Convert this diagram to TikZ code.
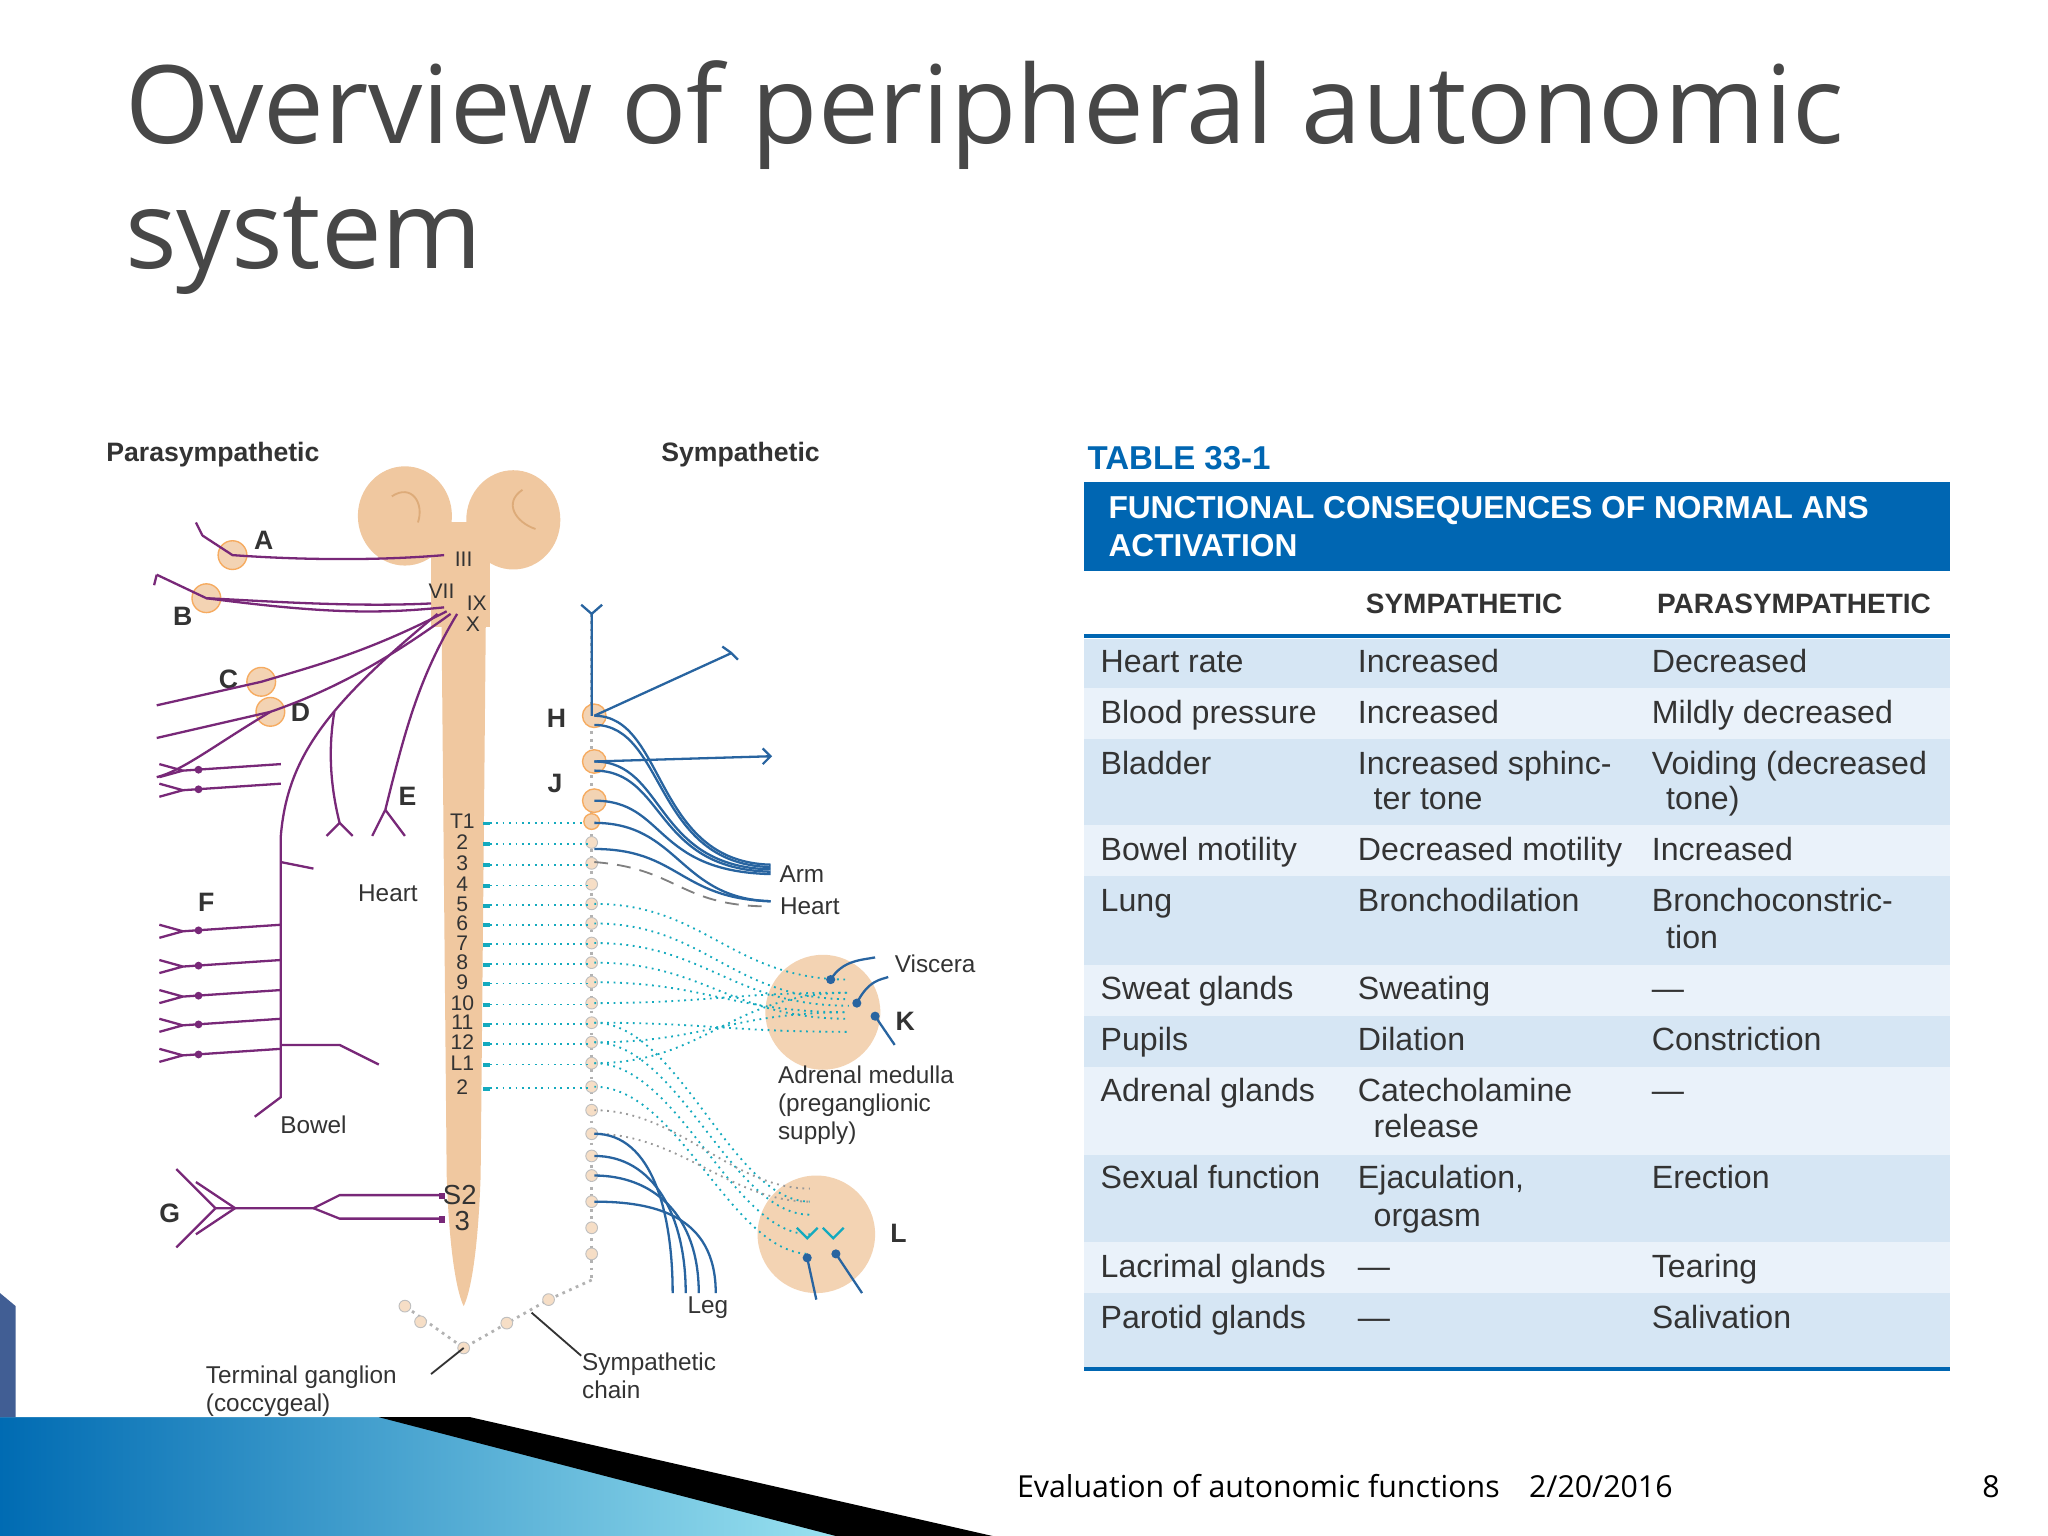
\documentclass[tikz,border=0pt]{standalone}
\usepackage{fontspec}
\setmainfont{Liberation Sans}
\newfontfamily\titlefont{Open Sans}
\usetikzlibrary{arrows.meta}
\definecolor{tblue}{RGB}{0,102,178}
\definecolor{rowA}{RGB}{214,230,244}
\definecolor{rowB}{RGB}{234,242,250}
\definecolor{tan}{RGB}{240,200,160}
\definecolor{purp}{RGB}{120,40,120}
\definecolor{nblue}{RGB}{40,100,160}
\definecolor{teal}{RGB}{20,170,190}
\tikzset{
 cell/.style={anchor=base west,font=\fontsize{7}{8}\selectfont,text=black!80,inner sep=0pt},
 lab/.style={font=\fontsize{5.3}{6.2}\selectfont,inner sep=0pt,text=black!80,align=left},
 blab/.style={font=\bfseries\fontsize{5.8}{7}\selectfont,inner sep=0pt,text=black!80},
 seg/.style={font=\fontsize{4.6}{5}\selectfont,inner sep=0pt,text=black!80},
 pn/.style={purp,line width=0.5pt},
 sn/.style={nblue,line width=0.5pt},
 gang/.style={fill=tan!80,draw=tan!60!orange,line width=0.3pt},
 foot/.style={anchor=west,inner sep=0pt,font=\titlefont\fontsize{6.6}{8}\selectfont},
 ttl/.style={anchor=west,inner sep=0pt,font=\titlefont\fontsize{23.6}{26}\selectfont,text=black!72},
}
\begin{document}
\begin{tikzpicture}[x=0.1mm,y=-0.1mm]
\useasboundingbox (0,0) rectangle (1568,1176);
\fill[white] (0,0) rectangle (1568,1176);
% title
\node[ttl] (t1) at (95,88) {Overview of peripheral autonomic};
\node[ttl] (t2) at (95,188) {system};
% bottom band
\shade[left color=cyan!60!blue!70!black,right color=cyan!25!white] (0,1085) rectangle (800,1176);
\fill[white] (0,1080) -- (800,1080) -- (800,1176) -- (700,1176) -- (300,1085) -- (0,1085) -- cycle;
\fill[black] (290,1085) -- (360,1085) -- (760,1176) -- (640,1176) -- cycle;
\fill[cyan!40!blue!70!black] (0,990) -- (12,1000) -- (12,1085) -- (0,1085) -- cycle;
\node[foot] (f1) at (778,1138) {Evaluation of autonomic functions};
\node[foot] (f2) at (1170,1138) {2/20/2016};
\node[foot] (f3) at (1517,1138) {8};
% ---------- table ----------
\node[anchor=west,inner sep=0pt,font=\bfseries\fontsize{7.2}{8}\selectfont,text=tblue] (tt) at (832,351) {TABLE 33-1};
\fill[tblue] (830,369) rectangle (1493,437);
\node[anchor=base west,inner sep=0pt,font=\bfseries\fontsize{6.9}{8}\selectfont,text=white] (th1) at (848,397) {FUNCTIONAL CONSEQUENCES OF NORMAL ANS};
\node[anchor=base west,inner sep=0pt,font=\bfseries\fontsize{6.9}{8}\selectfont,text=white] (th2) at (848,426) {ACTIVATION};
\node[anchor=base west,inner sep=0pt,font=\bfseries\fontsize{6.1}{8}\selectfont,text=black!80] (h1) at (1045,470) {SYMPATHETIC};
\node[anchor=base west,inner sep=0pt,font=\bfseries\fontsize{6.1}{8}\selectfont,text=black!80] (h2) at (1268,470) {PARASYMPATHETIC};
\foreach \a/\b/\c in {489/527/rowA,527/566/rowB,566/632/rowA,632/671/rowB,671/739/rowA,739/778/rowB,778/817/rowA,817/884/rowB,884/951/rowA,951/990/rowB,990/1048/rowA}
  \fill[\c] (830,\a) rectangle (1493,\b);
\draw[tblue,line width=1pt] (830,487) -- (1493,487);
\draw[tblue,line width=0.8pt] (830,1048) -- (1493,1048);
\foreach \y/\a/\b/\c [count=\i] in {
 515/Heart rate/Increased/Decreased,
 554/Blood pressure/Increased/Mildly decreased,
 593/Bladder/Increased sphinc-/Voiding (decreased,
 659/Bowel motility/Decreased motility/Increased,
 698/Lung/Bronchodilation/Bronchoconstric-,
 765/Sweat glands/Sweating/—,
 804/Pupils/Dilation/Constriction,
 843/Adrenal glands/Catecholamine/—,
 910/Sexual function/{Ejaculation,}/Erection,
 978/Lacrimal glands/—/Tearing,
 1017/Parotid glands/—/Salivation}{
 \node[cell] (ra\i) at (842,\y) {\a};
 \node[cell] (rb\i) at (1039,\y) {\b};
 \node[cell] (rc\i) at (1264,\y) {\c};
}
\node[cell] (rb3b) at (1051,620) {ter tone};
\node[cell] (rc3b) at (1275,620) {tone)};
\node[cell] (rc5b) at (1275,726) {tion};
\node[cell] (rb8b) at (1051,871) {release};
\node[cell] (rb9b) at (1051,939) {orgasm};
% ---------- diagram ----------
\node[blab] (lp) at (163,348) {Parasympathetic};
\node[blab] (ls) at (567,348) {Sympathetic};
% brain
\fill[tan] (310,395) ellipse (36 and 38);
\fill[tan] (393,398) ellipse (36 and 38);
\fill[tan] (330,400) rectangle (375,480);
\draw[tan!60!brown,line width=0.4pt] (300,380) .. controls (315,370) and (325,385) .. (320,400);
\draw[tan!60!brown,line width=0.4pt] (400,375) .. controls (385,385) and (395,400) .. (410,405);
% cord
\fill[tan] (338,470) -- (372,470) -- (368,900) .. controls (366,960) and (360,990) .. (355,1000) .. controls (350,990) and (344,960) .. (342,900) -- cycle;
% chain
\draw[black!30,densely dotted,line width=0.6pt] (453,470) -- (453,980);
\draw[black!30,densely dotted,line width=0.6pt] (453,980) -- (420,995) -- (355,1032) -- (310,1000);
\foreach \y in {645,661,677,692,707,722,737,752,768,783,798,814,832,850,868,885,900,920,940,960}
  \fill[tan!60,draw=black!25,line width=0.2pt] (453,\y) circle (4.5);
\foreach \p in {(420,995),(388,1013),(322,1012),(310,1000),(355,1032)}
  \fill[tan!60,draw=black!25,line width=0.2pt] \p circle (4.5);
% segment labels and dotted preganglionics
\foreach \t/\y in {T1/629,2/645,3/661,4/677,5/692,6/707,7/722,8/737,9/752,10/768,11/783,12/798,L1/814,2/832}{
  \node[seg] at (354,\y) {\t};
  \fill[teal] (370,\y) rectangle +(5,3);
  \draw[teal,densely dotted,line width=0.4pt] (375,\y+1) -- (453,\y+1);
}
% sympathetic ganglia
\fill[gang] (455,548) circle (9);
\fill[gang] (455,583) circle (9);
\fill[gang] (455,613) circle (9);
\fill[gang] (453,629) circle (6);
\node[blab] (H) at (426,550) {H};
\node[blab] (J) at (425,600) {J};
\draw[sn] (453,470) -- (453,548) (445,463) -- (453,470) -- (461,463);
\draw[sn] (455,548) -- (560,500) (553,495) -- (560,500) -- (565,505);
\draw[sn] (455,583) -- (590,579) (584,573) -- (590,579) -- (584,585);
\foreach \s/\d in {548/0,555/6,583/12,590/18,613/24}
  \draw[sn] (455,\s) .. controls (510,\s) and (500,{660+\d*0.3}) .. (590,{662+\d*0.3});
\foreach \s in {630,650}
  \draw[sn] (455,\s) .. controls (520,\s) and (520,688) .. (590,690);
\draw[black!50,densely dashed,line width=0.4pt] (455,660) .. controls (520,665) and (520,694) .. (590,694);
\node[lab] (arm) at (614,669) {Arm};
\node[lab] (hrt) at (620,694) {Heart};
% viscera
\fill[tan!80] (630,775) circle (44);
\foreach \s/\e in {692/750,707/765,722/770,737/780,752/775,768/760,783/790,798/775,814/760}
  \draw[teal,densely dotted,line width=0.4pt] (455,\s) .. controls (540,\s) and (560,\e) .. (650,\e);
\fill[nblue] (636,750) circle (3.5);
\fill[nblue] (656,768) circle (3.5);
\fill[nblue] (670,778) circle (3.5);
\draw[sn] (636,750) .. controls (645,735) and (660,735) .. (670,733);
\draw[sn] (656,768) .. controls (665,750) and (675,750) .. (680,748);
\draw[sn] (670,778) -- (685,800);
\node[lab] (visc) at (716,738) {Viscera};
\node[blab] (K) at (693,782) {K};
\node[lab,anchor=north west] (adr) at (595,815) {Adrenal medulla\\(preganglionic\\supply)};
% L
\fill[tan!80] (625,945) circle (45);
\foreach \s/\e in {783/920,798/930,814/945,832/960}
  \draw[teal,densely dotted,line width=0.4pt] (455,\s) .. controls (520,\s) and (560,\e) .. (620,\e);
\foreach \s/\e in {850/910,868/920}
  \draw[black!40,densely dotted,line width=0.4pt] (455,\s) .. controls (520,\s) and (560,\e) .. (620,\e);
\fill[nblue] (618,963) circle (3.5);
\fill[nblue] (640,960) circle (3.5);
\draw[sn] (618,963) -- (625,995);
\draw[sn] (640,960) -- (660,990);
\draw[teal,line width=0.5pt] (610,940) -- (618,948) -- (626,940) (630,940) -- (638,948) -- (646,940);
\node[blab] (L) at (688,944) {L};
% leg
\foreach \s/\e in {868/515,885/525,900/535,920/548}
  \draw[sn] (455,\s) .. controls (500,\s) and (\e,930) .. (\e,990);
\node[lab] (leg) at (542,1001) {Leg};
\draw[black!80,line width=0.4pt] (407,1005) -- (445,1038);
\node[lab,anchor=north west] (sch) at (445,1035) {Sympathetic\\chain};
\draw[black!80,line width=0.4pt] (355,1032) -- (330,1052);
\node[lab,anchor=north west] (tg) at (157,1045) {Terminal ganglion\\(coccygeal)};
% parasympathetic
\node[seg] (n3) at (355,428) {III};
\node[seg] (n7) at (338,453) {VII};
\node[seg] (n9) at (365,462) {IX};
\node[seg] (n10) at (362,478) {X};
\foreach \p in {(178,425),(158,458),(200,522),(207,545)}
  \fill[gang] \p circle (11);
\node[blab] (A) at (202,414) {A};
\node[blab] (B) at (140,472) {B};
\node[blab] (C) at (175,520) {C};
\node[blab] (D) at (230,545) {D};
\draw[pn] (340,425) .. controls (280,430) and (220,428) .. (178,425) -- (155,410) (150,400) -- (155,410);
\draw[pn] (330,462) .. controls (270,465) and (200,460) .. (158,458) -- (120,440) (118,448) -- (120,440);
\draw[pn] (340,465) .. controls (290,470) and (250,470) .. (158,458);
\draw[pn] (342,468) .. controls (280,500) and (240,510) .. (200,522) -- (120,540);
\draw[pn] (345,470) .. controls (290,510) and (250,530) .. (207,545) -- (120,565);
\draw[pn] (350,470) .. controls (320,520) and (310,560) .. (295,620);
\draw[pn] (335,470) .. controls (250,540) and (220,580) .. (215,640) -- (215,840) -- (195,855);
\draw[pn] (207,545) .. controls (165,570) and (140,590) .. (120,595);
\draw[pn] (256,545) .. controls (250,580) and (255,610) .. (260,630);
\foreach \y in {585,600,708,735,758,780,803}{
  \draw[pn] (215,\y) -- (140,\y+5);
  \fill[purp] (152,\y+4.3) circle (3);
  \draw[pn] (140,\y+5) -- (122,\y) (140,\y+5) -- (122,\y+10);
}
\draw[pn] (295,620) -- (310,640) (295,620) -- (285,640);
\draw[pn] (260,630) -- (270,640) (260,630) -- (250,640);
\draw[pn] (215,660) -- (240,665);
\draw[pn] (215,800) -- (260,800) -- (290,815);
\node[blab] (E) at (312,610) {E};
\node[blab] (F) at (158,691) {F};
\node[lab] (hh) at (297,684) {Heart};
\node[lab] (bw) at (240,861) {Bowel};
% sacral
\node[seg,font=\fontsize{6}{6}\selectfont] (s2) at (352,915) {S2};
\node[seg,font=\fontsize{6}{6}\selectfont] (s3) at (354,935) {3};
\draw[pn] (338,915) -- (260,915) -- (240,925) -- (165,925);
\draw[pn] (338,933) -- (260,933) -- (240,925);
\fill[purp] (336,913) rectangle (341,918);
\fill[purp] (336,931) rectangle (341,936);
\draw[pn] (165,925) -- (135,895) (165,925) -- (135,955);
\draw[pn] (180,925) -- (150,905) (180,925) -- (150,945);
\node[blab] (G) at (130,929) {G};
\end{tikzpicture}
\end{document}
